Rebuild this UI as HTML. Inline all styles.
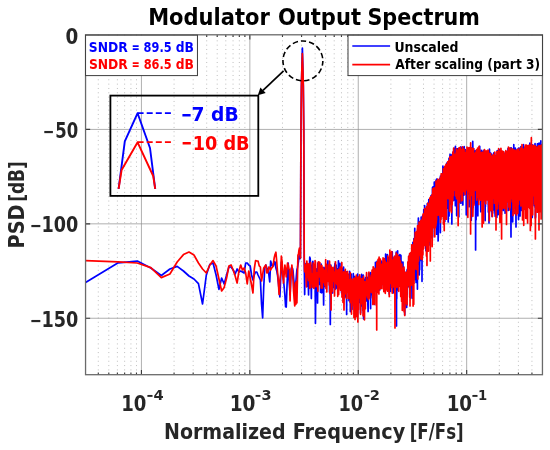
<!DOCTYPE html>
<html><head><meta charset="utf-8"><title>Modulator Output Spectrum</title>
<style>
html,body{margin:0;padding:0;background:#fff;}
svg{display:block;font-family:"DejaVu Sans Condensed", "Liberation Sans", sans-serif;font-weight:bold;}
</style></head><body>
<svg width="550" height="450" viewBox="0 0 550 450">
<defs><clipPath id="ax"><rect x="85.55" y="34.8" width="456.9" height="339.9"/></clipPath></defs>
<rect width="550" height="450" fill="#fff"/>
<rect x="85.55" y="34.8" width="456.90000000000003" height="339.9" fill="#fff"/>
<path d="M98.29 34.8V374.7M108.8 34.8V374.7M117.38 34.8V374.7M124.64 34.8V374.7M130.93 34.8V374.7M136.47 34.8V374.7M174.07 34.8V374.7M193.16 34.8V374.7M206.7 34.8V374.7M217.21 34.8V374.7M225.79 34.8V374.7M233.05 34.8V374.7M239.34 34.8V374.7M244.88 34.8V374.7M282.48 34.8V374.7M301.57 34.8V374.7M315.12 34.8V374.7M325.62 34.8V374.7M334.21 34.8V374.7M341.47 34.8V374.7M347.75 34.8V374.7M353.3 34.8V374.7M390.89 34.8V374.7M409.99 34.8V374.7M423.53 34.8V374.7M434.04 34.8V374.7M442.62 34.8V374.7M449.88 34.8V374.7M456.17 34.8V374.7M461.71 34.8V374.7M499.31 34.8V374.7M518.4 34.8V374.7M531.94 34.8V374.7" stroke="#bebebe" stroke-width="1" stroke-dasharray="1 3.33" stroke-dashoffset="-1.2" fill="none"/>
<path d="M141.43 34.8V374.7M249.85 34.8V374.7M358.26 34.8V374.7M466.67 34.8V374.7M85.55 129.42H542.45M85.55 223.83H542.45M85.55 318.25H542.45" stroke="#8e8e8e" stroke-width="0.7" fill="none"/>
<g clip-path="url(#ax)" fill="none" stroke-linejoin="round" stroke-linecap="butt" stroke-width="1.7"><path d="M85.55 282.5L118.19 262.8L137.28 261.1L150.82 268.0L161.33 275.5L169.91 269.0L177.17 266.4L183.46 271.0L189.00 276.0L193.96 279.0L198.45 283.6L202.55 304.0L206.32 275.0L209.81 264.6L213.05 263.0L216.09 275.0L218.95 289.4L221.64 278.0L224.18 284.0L226.60 275.0L228.90 267.0L231.09 267.0L233.18 270.0L235.18 274.0L237.11 269.0L238.95 272.0L240.73 271.0L242.44 272.0L244.09 273.0L245.69 263.0L247.23 263.0L248.73 265.0L250.18 266.0L251.58 275.0L252.95 280.0L254.27 275.0L255.56 272.0L256.82 272.0L258.04 275.0L259.23 277.5L260.40 280.0L261.53 303.8L262.64 318.0L263.72 287.0L264.78 268.0L265.82 265.0L266.83 267.8L267.82 270.0L268.79 274.1L269.74 282.0L270.67 261.0L271.59 264.4L272.48 266.0L273.36 266.0L274.23 261.7L275.08 262.0L275.91 268.1L276.73 270.7L277.53 275.0L278.33 282.1L279.10 290.5L279.87 297.0L280.62 279.2L281.36 262.0L282.09 265.8L282.81 275.3L283.52 280.0L284.22 287.5L284.91 295.5L285.58 306.7L286.25 307.0L286.91 288.5L287.56 272.5L288.20 263.0L288.83 278.2L289.46 285.4L290.07 295.0L290.68 282.2L291.28 268.0L291.87 270.3L292.46 268.2L293.03 271.0L293.60 278.0L294.17 283.7L294.73 290.0L295.28 286.2L295.82 282.9L296.36 276.2L296.89 270.0L297.42 267.9L297.94 264.6L298.45 261.7L298.96 256.0L299.46 255.7L299.96 258.7L300.45 258.0L300.94 130.7L301.43 85.7L301.90 67.7L302.38 48.0L302.85 67.7L303.31 85.7L303.77 130.7L304.22 258.0L304.67 294.6L305.12 263.5L305.56 272.4L306.00 276.6L306.43 272.6L306.86 276.7L307.29 283.6L307.71 286.4L308.13 275.1L308.55 295.0L308.96 266.7L309.37 270.6L309.77 257.2L310.17 258.5L310.57 264.3L310.96 280.6L311.35 298.6L311.74 269.1L312.12 266.9L312.51 264.1L312.88 261.4L313.26 279.4L313.63 266.7L314.00 288.1L314.37 273.6L314.73 281.8L315.09 275.8L315.45 323.3L315.80 290.8L316.16 268.8L316.51 276.0L316.85 282.9L317.20 269.3L317.54 302.9L317.88 263.0L318.22 270.0L318.55 270.8L318.89 269.2L319.22 266.8L319.55 284.4L319.87 278.3L320.20 268.1L320.52 292.3L320.84 284.1L321.15 264.1L321.47 271.5L321.78 292.8L322.09 268.4L322.40 287.4L322.71 285.1L323.01 270.7L323.31 279.2L323.62 305.0L323.91 267.3L324.21 282.9L324.51 286.6L324.80 268.7L325.09 276.2L325.38 277.0L325.67 283.6L325.96 273.3L326.24 286.2L326.52 277.8L326.80 279.4L327.08 275.0L327.36 281.1L327.64 269.4L327.91 260.9L328.18 279.8L328.46 270.5L328.73 275.0L328.99 269.1L329.26 271.0L329.53 292.0L329.79 272.7L330.05 274.8L330.31 324.4L330.57 268.9L330.83 265.1L331.09 270.3L331.34 269.8L331.60 275.5L331.85 277.0L332.10 274.2L332.35 270.8L332.60 292.9L332.84 272.0L333.09 272.8L333.34 278.7L333.58 275.2L333.82 270.6L334.06 287.5L334.30 276.0L334.54 268.8L334.78 265.7L335.01 263.4L335.25 289.3L335.48 275.4L335.71 278.4L335.95 269.0L336.18 265.2L336.40 276.9L336.63 287.6L336.86 278.3L337.09 288.7L337.31 268.8L337.53 284.8L337.76 274.8L337.98 272.2L338.20 285.1L338.42 260.8L338.64 273.2L338.85 267.5L339.07 280.6L339.29 282.3L339.50 268.4L339.71 270.0L339.93 263.4L340.14 280.3L340.35 282.2L340.56 271.6L340.77 283.4L340.98 284.8L341.18 281.5L341.39 273.8L341.59 292.7L341.80 278.8L342.00 281.1L342.20 279.2L342.40 294.2L342.61 288.7L342.81 268.2L343.00 269.6L343.20 296.7L343.40 277.6L343.60 267.2L343.79 275.3L343.99 283.7L344.18 282.3L344.38 288.4L344.57 271.4L344.76 295.3L344.95 281.2L345.14 279.7L345.33 296.9L345.52 279.8L345.71 284.6L345.89 277.0L346.08 285.0L346.27 280.6L346.45 271.9L346.64 314.4L346.82 275.1L347.00 273.7L347.18 276.8L347.37 280.5L347.55 284.3L347.73 276.8L347.91 274.4L348.08 284.8L348.26 275.1L348.44 287.0L348.62 286.6L348.79 291.2L348.97 300.6L349.14 282.5L349.32 279.5L349.49 291.5L349.66 271.3L349.84 291.8L350.01 301.5L350.18 277.1L350.35 311.6L350.52 289.2L350.69 290.9L350.85 288.7L351.02 296.3L351.19 274.0L351.36 283.0L351.52 286.6L351.69 290.5L351.85 283.3L352.02 309.3L352.18 287.9L352.34 284.8L352.51 290.8L352.67 291.2L352.83 282.1L352.99 289.6L353.15 282.8L353.31 273.7L353.47 286.4L353.63 289.8L353.79 282.3L353.95 276.0L354.10 280.8L354.26 291.5L354.42 281.5L354.57 284.0L354.73 294.6L354.88 277.0L355.04 282.3L355.19 289.2L355.34 279.6L355.50 290.9L355.65 294.5L355.80 289.9L355.95 288.8L356.10 284.8L356.25 297.5L356.40 281.8L356.55 279.7L356.70 280.0L356.85 289.2L356.99 284.8L357.14 287.2L357.29 290.2L357.44 316.5L357.58 274.2L357.73 283.9L357.87 301.0L358.02 299.3L358.16 290.8L358.30 287.2L358.45 277.9L358.59 290.7L358.73 291.3L358.88 291.2L359.02 286.0L359.16 283.1L359.30 281.5L359.44 300.9L359.58 276.4L359.72 302.5L359.86 299.6L360.00 283.8L360.13 288.3L360.27 302.3L360.41 297.3L360.55 313.0L360.68 305.9L360.82 278.8L360.96 283.3L361.09 305.5L361.23 293.5L361.36 284.1L361.50 288.5L361.63 274.3L361.76 280.4L361.90 295.0L362.03 305.8L362.16 289.0L362.29 282.9L362.43 276.6L362.56 283.3L362.69 283.7L362.82 303.2L362.95 286.5L363.08 293.2L363.21 291.6L363.34 275.2L363.47 290.2L363.59 318.8L363.72 279.0L363.85 289.3L363.98 293.9L364.10 285.3L364.23 300.6L364.36 281.1L364.48 302.5L364.61 302.1L364.74 282.5L364.86 283.2L364.98 286.1L365.11 288.4L365.23 279.1L365.36 280.5L365.48 289.4L365.60 277.7L365.73 285.4L365.85 293.5L365.97 286.3L366.09 283.3L366.21 290.2L366.34 301.0L366.46 282.0L366.58 295.3L366.70 287.2L366.82 289.5L366.94 278.3L367.06 290.8L367.18 297.0L367.29 294.6L367.41 285.7L367.53 277.6L367.65 282.9L367.77 291.1L367.88 305.1L368.12 311.6L368.23 286.6L368.35 277.0L368.47 284.7L368.58 288.5L368.70 273.4L368.81 275.1L368.93 278.8L369.04 278.7L369.15 281.4L369.27 281.2L369.38 297.3L369.61 277.9L369.72 290.5L369.83 294.9L369.95 285.4L370.06 273.0L370.17 287.7L370.28 289.5L370.39 279.2L370.61 308.6L370.72 272.7L370.83 279.3L370.94 282.2L371.05 292.1L371.16 277.8L371.27 276.8L371.49 289.8L371.60 289.5L371.71 294.7L371.81 278.6L371.92 286.8L372.03 287.2L372.14 275.0L372.35 287.8L372.46 280.0L372.56 296.9L372.67 298.2L372.88 287.5L372.98 280.3L373.09 293.6L373.19 281.1L373.30 269.8L373.40 278.9L373.51 277.8L373.61 296.0L373.82 269.9L373.92 268.6L374.02 272.9L374.23 282.6L374.33 282.4L374.43 304.5L374.53 282.6L374.74 291.4L374.84 286.1L374.94 282.1L375.04 282.3L375.14 276.2L375.34 289.4L375.44 262.4L375.54 286.5L375.64 271.0L375.84 290.9L375.94 279.3L376.04 272.2L376.23 275.4L376.33 283.4L376.43 265.5L376.62 275.9L376.72 285.8L376.82 268.9L376.91 271.1L377.01 261.4L377.11 275.1L377.30 280.3L377.49 273.1L377.59 276.4L377.68 276.1L377.78 282.8L377.87 277.1L378.15 266.6L378.25 277.2L378.34 273.5L378.44 268.3L378.53 274.0L378.72 270.1L378.81 267.3L378.99 285.9L379.09 278.9L379.18 286.7L379.27 277.8L379.45 267.6L379.55 267.8L379.73 290.0L379.82 271.0L379.91 272.5L380.00 267.8L380.09 276.1L380.27 267.7L380.45 280.0L380.54 274.1L380.63 286.6L380.90 280.9L380.99 263.9L381.08 280.6L381.16 272.0L381.34 280.9L381.43 261.0L381.52 270.4L381.69 278.0L381.78 284.9L381.87 262.3L382.04 274.7L382.13 268.6L382.38 278.7L382.47 267.4L382.56 271.5L382.73 283.0L382.81 273.3L382.90 283.2L383.15 264.5L383.24 270.0L383.32 261.8L383.41 270.7L383.57 261.4L383.74 287.4L383.83 263.1L383.91 266.4L384.08 262.0L384.16 273.5L384.41 278.0L384.49 282.8L384.57 259.2L384.74 264.2L384.82 260.6L384.90 290.8L385.06 268.6L385.22 280.1L385.39 260.0L385.47 279.3L385.55 281.7L385.63 254.1L385.79 283.5L385.95 266.2L386.11 263.3L386.19 278.5L386.27 264.1L386.35 280.3L386.50 282.2L386.74 263.8L386.82 265.4L386.97 259.5L387.05 266.1L387.13 275.7L387.29 272.3L387.36 254.6L387.67 261.6L387.75 280.1L387.90 278.2L387.98 260.9L388.13 257.5L388.21 281.0L388.36 281.8L388.43 265.3L388.51 275.8L388.59 263.3L388.89 269.7L388.96 263.3L389.04 267.7L389.19 260.3L389.26 293.9L389.41 261.2L389.56 275.4L389.63 279.7L389.78 253.9L389.92 285.0L390.14 259.5L390.22 263.8L390.36 274.1L390.44 261.8L390.51 291.2L390.58 265.1L390.87 283.5L390.94 271.7L391.01 273.0L391.08 257.1L391.37 269.4L391.44 267.4L391.51 268.0L391.58 255.5L391.79 263.7L391.86 274.2L392.07 256.8L392.15 282.8L392.28 251.9L392.35 287.1L392.56 262.7L392.70 278.3L392.77 259.3L392.98 277.0L393.05 267.3L393.11 292.9L393.39 271.1L393.46 261.1L393.59 265.8L393.66 258.3L393.79 292.3L393.93 265.1L394.06 261.6L394.13 269.8L394.27 261.1L394.40 280.4L394.53 256.4L394.66 270.7L394.80 283.3L394.86 257.5L395.06 269.9L395.19 262.8L395.26 274.1L395.32 265.8L395.58 266.3L395.71 277.8L395.78 269.1L395.84 282.2L396.10 285.1L396.23 252.1L396.36 262.9L396.49 326.0L396.55 261.4L396.74 298.5L396.80 262.4L396.87 276.1L397.18 284.8L397.25 255.6L397.37 253.1L397.50 270.7L397.62 250.8L397.75 279.2L397.81 284.7L397.93 269.3L398.05 289.8L398.18 261.2L398.30 262.6L398.36 285.5L398.61 255.8L398.67 270.1L398.79 274.9L398.91 265.5L399.09 263.9L399.21 280.0L399.33 267.2L399.45 282.6L399.57 286.3L399.69 263.7L399.81 273.4L399.87 254.5L400.11 263.3L400.23 272.5L400.40 284.4L400.46 267.6L400.58 278.0L400.69 260.9L400.87 289.8L400.93 255.4L401.04 269.5L401.16 279.8L401.27 288.5L401.39 261.4L401.50 295.5L401.73 267.2L401.85 290.6L401.96 277.3L402.19 271.0L402.24 284.1L402.41 270.3L402.47 285.7L402.53 284.6L402.75 269.5L402.92 304.9L402.97 262.1L403.14 286.2L403.25 276.7L403.30 266.8L403.41 299.2L403.63 300.7L403.74 269.1L403.80 273.4L403.85 289.2L404.02 270.2L404.07 307.1L404.34 276.7L404.40 310.6L404.56 273.5L404.72 314.7L404.93 301.7L404.99 284.6L405.09 293.3L405.14 280.7L405.30 292.8L405.36 272.3L405.57 279.4L405.73 299.7L405.93 285.6L405.99 273.7L406.09 278.9L406.19 297.0L406.30 282.9L406.40 292.6L406.61 281.1L406.66 307.5L406.76 302.8L406.97 283.2L407.07 269.9L407.22 294.2L407.27 269.4L407.37 287.4L407.53 278.1L407.73 269.8L407.88 262.8L407.93 277.3L408.08 277.4L408.23 286.7L408.28 282.6L408.38 269.8L408.67 267.1L408.72 286.0L408.87 261.9L408.92 283.9L409.06 286.7L409.21 256.2L409.36 284.6L409.45 265.6L409.50 269.6L409.74 253.8L409.79 297.0L409.89 265.5L410.03 287.0L410.08 257.6L410.32 261.0L410.36 279.6L410.51 256.3L410.60 298.4L410.88 253.2L410.93 272.4L411.12 273.3L411.21 259.8L411.40 276.9L411.45 254.2L411.54 270.1L411.72 253.2L411.91 252.7L412.00 267.4L412.09 272.3L412.18 255.3L412.27 248.3L412.46 298.1L412.64 260.2L412.73 282.6L412.77 277.2L412.91 242.3L413.13 265.6L413.22 251.0L413.27 267.2L413.36 249.3L413.53 263.4L413.67 246.9L413.84 258.6L413.93 238.5L414.02 242.8L414.06 262.3L414.33 240.2L414.41 266.2L414.59 237.9L414.67 258.9L414.76 228.4L414.89 279.6L415.19 242.0L415.24 254.9L415.28 260.8L415.45 242.0L415.70 235.1L415.75 258.8L415.92 263.0L415.96 244.8L416.08 282.5L416.13 239.2L416.25 234.0L416.38 267.7L416.59 236.7L416.63 270.5L416.84 265.9L416.88 237.9L417.08 247.9L417.21 232.4L417.41 289.1L417.45 234.3L417.58 264.6L417.66 228.8L417.82 256.2L417.86 226.4L418.06 252.2L418.14 235.9L418.38 218.0L418.42 248.2L418.62 251.4L418.70 225.5L418.82 231.5L418.98 257.9L419.14 247.6L419.18 233.1L419.26 274.8L419.34 231.5L419.61 233.4L419.65 269.8L419.77 251.4L419.88 221.6L420.04 261.1L420.23 225.9L420.31 251.3L420.50 230.5L420.54 252.2L420.65 224.2L420.84 247.1L420.99 223.0L421.11 241.5L421.18 217.2L421.26 219.8L421.45 244.0L421.60 260.0L421.67 219.0L421.93 249.5L421.97 231.3L422.01 281.3L422.08 217.9L422.27 258.5L422.49 222.7L422.71 215.6L422.74 239.1L422.82 231.7L422.89 219.4L423.03 218.9L423.22 245.4L423.36 217.6L423.40 234.6L423.65 218.8L423.72 240.4L423.76 209.7L423.97 239.0L424.00 229.4L424.11 213.3L424.25 215.1L424.46 239.5L424.54 229.4L424.61 205.5L424.85 210.0L424.96 242.1L425.06 232.9L425.20 216.1L425.41 232.4L425.48 215.3L425.51 210.6L425.58 239.1L425.96 250.8L425.99 217.8L426.16 228.7L426.23 208.8L426.43 218.7L426.46 245.0L426.53 239.0L426.57 208.0L426.83 213.2L426.87 240.8L427.17 231.7L427.20 212.6L427.30 203.7L427.40 240.5L427.60 228.4L427.66 207.6L427.83 230.4L427.99 212.6L428.15 214.7L428.22 247.0L428.41 203.6L428.48 231.6L428.54 206.0L428.58 242.1L428.77 227.6L428.80 199.6L429.19 232.0L429.22 202.2L429.31 219.6L429.47 201.8L429.53 223.6L429.66 199.9L429.76 198.8L429.88 234.3L430.07 245.1L430.19 214.4L430.26 225.1L430.32 202.2L430.54 198.9L430.63 216.1L430.81 238.1L431.00 196.2L431.09 195.7L431.21 236.3L431.30 196.6L431.39 237.6L431.52 200.0L431.61 228.8L431.76 198.9L431.91 222.5L432.03 227.8L432.18 196.3L432.39 208.0L432.48 187.7L432.62 236.9L432.71 193.1L432.77 193.4L432.95 214.1L433.01 186.8L433.07 223.6L433.27 222.6L433.45 193.6L433.50 193.5L433.56 218.7L433.85 217.7L433.97 189.9L434.11 218.6L434.17 186.7L434.25 212.2L434.28 182.2L434.54 191.7L434.65 215.5L434.88 188.0L434.96 210.3L435.05 187.0L435.13 200.5L435.44 210.0L435.50 181.6L435.52 217.4L435.72 184.3L435.77 190.8L435.91 212.7L436.08 180.0L436.24 218.9L436.27 188.0L436.32 215.3L436.63 234.2L436.68 179.1L436.90 207.1L436.95 181.9L437.14 185.5L437.22 209.0L437.27 179.3L437.41 201.1L437.57 184.9L437.59 207.5L437.81 201.4L437.89 181.9L438.07 180.8L438.12 241.0L438.41 230.8L438.47 179.8L438.57 209.5L438.67 183.6L438.78 186.6L438.99 198.0L439.14 182.6L439.24 210.8L439.37 198.7L439.47 185.1L439.50 209.3L439.53 183.1L439.81 204.8L439.86 178.7L440.14 178.1L440.24 209.8L440.39 232.6L440.46 176.0L440.56 195.2L440.61 179.2L440.96 210.6L440.99 177.8L441.04 178.3L441.13 198.2L441.26 176.3L441.38 188.4L441.50 210.1L441.55 177.2L441.82 199.3L441.87 178.7L442.04 177.3L442.16 209.1L442.28 213.7L442.50 178.8L442.52 175.0L442.59 208.4L442.83 209.3L442.91 166.0L443.12 171.8L443.24 197.3L443.38 167.7L443.47 206.7L443.57 170.7L443.68 197.8L443.94 192.7L443.99 172.1L444.10 209.8L444.13 172.2L444.40 193.7L444.50 174.3L444.59 171.8L444.75 218.4L444.80 221.4L444.89 171.7L445.07 190.2L445.18 168.5L445.43 171.6L445.45 193.6L445.63 166.4L445.75 206.9L445.92 168.7L445.95 209.6L446.15 214.7L446.24 169.2L446.26 197.2L446.30 171.0L446.55 195.5L446.66 163.9L446.77 197.0L446.83 163.2L447.09 202.8L447.16 165.4L447.40 193.1L447.42 170.8L447.53 165.2L447.57 208.2L447.85 172.0L447.98 203.0L448.17 169.8L448.21 221.9L448.28 164.1L448.34 188.5L448.57 189.4L448.68 162.5L448.76 167.0L448.80 188.2L449.03 158.3L449.06 216.0L449.31 164.2L449.49 207.1L449.55 162.5L449.70 177.9L449.90 188.8L449.99 155.9L450.03 154.4L450.17 204.1L450.27 198.2L450.48 161.8L450.56 162.2L450.72 190.2L450.86 187.3L450.88 158.4L451.06 196.5L451.08 158.4L451.28 155.0L451.46 194.1L451.72 158.0L451.74 195.2L451.75 159.1L451.85 224.0L452.07 157.3L452.11 183.8L452.46 154.0L452.48 188.3L452.56 183.6L452.58 154.6L452.79 182.7L452.83 160.6L453.00 194.8L453.08 152.2L453.46 156.0L453.48 200.5L453.59 152.3L453.67 192.2L453.91 186.3L453.95 157.3L454.03 157.3L454.06 199.8L454.40 148.3L454.49 177.3L454.66 154.4L454.74 199.9L454.75 174.9L454.85 154.3L455.14 177.4L455.18 158.3L455.36 205.7L455.45 146.3L455.67 180.4L455.74 151.0L455.76 191.6L455.78 160.6L456.19 155.4L456.21 174.5L456.34 159.3L456.48 193.2L456.68 151.2L456.69 215.7L456.87 185.4L456.99 149.3L457.08 148.9L457.17 188.4L457.40 148.9L457.49 179.4L457.70 187.6L457.73 159.4L457.76 158.5L457.94 177.0L458.06 153.9L458.20 188.4L458.44 154.3L458.45 196.5L458.56 198.9L458.61 149.0L458.85 216.7L458.88 156.6L459.17 191.4L459.23 153.1L459.40 152.1L459.47 179.9L459.54 188.0L459.55 147.9L459.75 152.4L459.80 185.2L460.05 151.2L460.07 185.7L460.35 154.3L460.37 185.9L460.63 154.1L460.74 181.8L460.87 203.2L460.89 146.8L461.00 150.1L461.08 177.5L461.31 149.0L461.49 191.5L461.60 154.7L461.73 198.7L461.81 153.1L461.93 175.1L462.14 183.1L462.17 150.7L462.36 152.6L462.38 186.5L462.60 147.5L462.70 204.1L462.86 205.0L462.95 156.8L463.14 156.2L463.22 190.3L463.40 188.8L463.42 152.4L463.57 177.9L463.69 153.2L463.83 148.4L463.98 195.1L464.15 146.5L464.24 174.5L464.30 155.6L464.42 179.5L464.59 155.4L464.63 192.8L464.87 160.3L464.95 192.3L465.10 155.8L465.22 192.3L465.28 149.7L465.47 188.0L465.63 154.7L465.69 185.1L465.95 155.8L465.99 183.4L466.10 177.3L466.13 155.1L466.26 214.8L466.30 152.5L466.53 157.5L466.73 200.0L466.80 194.5L466.82 151.4L467.10 193.5L467.18 152.6L467.30 190.1L467.42 157.0L467.60 192.2L467.71 151.2L467.81 181.3L467.98 150.8L468.10 152.6L468.22 194.0L468.27 154.8L468.42 184.0L468.55 178.6L468.73 152.5L468.93 167.4L468.97 149.0L469.03 147.8L469.12 206.7L469.33 174.1L469.36 156.5L469.59 148.6L469.69 185.5L469.77 185.8L469.79 154.0L470.03 154.6L470.06 184.4L470.30 199.7L470.35 153.4L470.51 187.7L470.73 154.9L470.96 194.8L471.00 158.3L471.14 152.0L471.21 196.7L471.26 220.2L471.49 148.2L471.60 152.4L471.70 189.4L471.78 152.5L471.85 187.5L472.03 154.9L472.24 195.4L472.30 193.1L472.39 151.8L472.61 183.6L472.73 141.4L472.92 151.4L472.95 182.7L473.05 207.6L473.15 158.1L473.36 153.5L473.41 187.2L473.67 148.7L473.73 184.0L473.76 181.3L473.86 152.8L474.07 150.8L474.20 185.2L474.25 192.0L474.27 154.0L474.55 155.6L474.66 203.0L474.85 187.8L474.89 157.0L475.03 189.9L475.23 152.1L475.34 150.8L475.45 199.8L475.51 153.1L475.60 250.0L475.85 153.8L475.93 200.6L476.11 219.8L476.25 152.5L476.34 151.6L476.43 193.3L476.64 203.4L476.66 152.0L476.83 200.2L476.84 154.3L477.08 152.3L477.20 187.1L477.44 153.2L477.45 195.7L477.56 157.2L477.67 192.7L477.85 215.8L477.99 153.6L478.02 187.7L478.10 155.7L478.29 190.4L478.49 152.8L478.57 156.7L478.68 196.6L478.76 150.7L478.95 189.6L479.07 156.7L479.10 185.8L479.35 183.7L479.47 152.6L479.54 188.3L479.71 146.3L479.77 152.6L479.99 199.0L480.05 183.5L480.09 155.1L480.41 157.4L480.43 195.6L480.57 151.3L480.61 196.4L480.79 211.7L480.92 157.6L481.09 152.1L481.14 197.0L481.27 190.3L481.48 154.4L481.62 200.8L481.71 150.3L481.86 152.9L481.91 190.5L482.13 198.2L482.22 154.1L482.29 179.9L482.32 152.6L482.64 190.8L482.65 152.0L482.89 187.8L482.90 154.8L483.03 156.4L483.22 198.5L483.35 158.2L483.44 190.5L483.57 153.7L483.67 190.0L483.83 188.7L483.95 150.3L484.11 196.8L484.19 160.8L484.36 156.7L484.39 184.4L484.53 155.2L484.69 188.9L484.81 151.3L484.95 187.7L485.15 220.6L485.21 152.4L485.27 155.1L485.40 206.5L485.50 191.1L485.55 155.6L485.91 153.5L485.98 194.7L486.17 161.3L486.21 198.4L486.39 193.3L486.46 155.6L486.57 153.7L486.58 181.1L486.78 191.2L486.86 153.6L487.08 156.0L487.18 189.6L487.38 191.5L487.42 158.7L487.54 190.7L487.70 158.4L487.81 188.1L487.90 154.3L488.02 187.5L488.14 151.6L488.38 211.9L488.48 153.8L488.53 156.9L488.66 193.4L488.96 159.3L489.00 223.0L489.08 155.2L489.22 205.0L489.34 189.4L489.46 149.2L489.65 154.1L489.75 179.8L489.95 157.1L489.99 194.3L490.12 156.4L490.19 189.2L490.33 195.6L490.47 157.5L490.61 190.6L490.63 158.6L490.76 153.2L490.86 208.3L491.03 156.6L491.12 190.8L491.37 211.1L491.38 157.9L491.52 154.1L491.68 189.9L491.79 157.6L491.80 194.9L492.04 216.4L492.14 155.7L492.26 179.7L492.32 158.7L492.62 213.0L492.73 161.1L492.81 207.0L492.94 157.1L493.05 202.9L493.21 158.8L493.32 197.1L493.47 156.2L493.52 191.5L493.66 153.9L493.86 152.8L493.87 209.8L494.02 156.0L494.19 193.0L494.30 153.9L494.33 202.9L494.60 193.2L494.62 153.2L494.76 157.3L494.88 211.1L495.21 216.4L495.22 159.2L495.27 157.0L495.36 194.3L495.59 195.9L495.68 156.8L495.78 157.1L495.97 209.7L496.01 155.5L496.23 197.2L496.28 159.4L496.47 193.9L496.53 157.9L496.68 195.0L496.86 217.3L496.95 155.9L497.08 193.6L497.16 160.1L497.26 150.7L497.32 188.5L497.55 188.5L497.69 157.2L497.90 157.3L497.94 208.8L498.21 152.1L498.24 214.7L498.33 210.8L498.42 160.7L498.59 185.7L498.67 157.3L498.86 149.9L498.91 194.9L499.00 204.7L499.15 156.8L499.39 155.8L499.43 213.5L499.63 149.5L499.68 198.6L499.80 192.5L499.85 154.2L500.01 187.9L500.11 151.0L500.29 157.2L500.31 204.0L500.73 156.0L500.74 202.5L500.77 205.2L500.86 155.0L501.05 152.4L501.19 186.5L501.37 152.3L501.43 214.4L501.61 188.9L501.71 154.8L501.76 153.1L501.90 204.9L502.22 190.7L502.24 153.3L502.30 190.3L502.42 155.7L502.65 187.1L502.67 154.6L502.78 202.2L502.81 153.6L503.08 155.8L503.16 193.1L503.27 210.4L503.32 151.7L503.59 194.6L503.67 161.1L503.78 199.3L503.94 156.4L504.04 155.2L504.18 197.0L504.30 193.4L504.31 156.8L504.66 194.2L504.70 154.3L504.80 190.4L504.89 156.0L505.07 153.7L505.10 213.2L505.27 207.9L505.45 153.5L505.50 190.2L505.68 151.8L505.83 199.1L505.88 152.7L506.05 156.0L506.13 189.0L506.31 184.7L506.38 154.4L506.63 153.9L506.67 200.2L506.92 192.1L507.00 152.6L507.01 198.2L507.20 154.2L507.38 153.0L507.45 201.7L507.59 151.7L507.62 192.9L507.80 184.7L508.00 148.7L508.16 210.4L508.20 152.4L508.28 154.8L508.41 202.4L508.73 194.2L508.74 155.5L508.76 156.0L508.93 196.8L509.11 195.9L509.24 154.5L509.35 205.2L509.46 155.3L509.59 157.1L509.66 203.7L509.90 195.9L509.92 152.4L510.16 199.9L510.17 148.1L510.28 154.2L510.29 203.0L510.50 193.1L510.56 149.1L510.75 152.0L510.83 207.6L511.00 237.0L511.16 147.8L511.29 151.5L511.44 182.4L511.62 193.1L511.68 149.0L511.87 190.9L511.91 154.8L512.04 152.9L512.21 204.2L512.36 202.7L512.47 153.0L512.55 153.1L512.69 221.8L512.80 152.3L512.83 191.7L513.17 155.5L513.24 211.4L513.35 208.7L513.43 153.3L513.67 198.0L513.74 158.5L513.79 144.7L513.93 191.5L514.14 181.1L514.15 152.9L514.37 151.1L514.49 195.8L514.50 186.9L514.73 153.2L514.85 156.0L514.98 199.3L515.06 151.8L515.21 196.6L515.29 148.1L515.44 195.9L515.54 149.0L515.63 209.0L515.75 153.6L516.00 227.0L516.01 183.4L516.04 152.6L516.29 157.1L516.29 191.5L516.71 152.8L516.74 187.6L516.75 194.6L516.92 152.3L517.22 189.1L517.24 153.0L517.25 189.0L517.43 149.4L517.51 190.0L517.75 150.9L517.78 193.3L517.95 151.3L518.08 152.5L518.09 192.4L518.27 150.6L518.31 201.1L518.54 219.6L518.60 148.1L518.85 203.1L518.86 153.5L519.07 185.5L519.19 151.2L519.28 201.1L519.41 148.4L519.57 151.2L519.71 198.4L519.84 198.7L519.96 151.0L520.05 215.9L520.06 150.8L520.34 151.1L520.50 203.2L520.66 190.9L520.73 152.9L520.79 186.3L520.96 146.5L521.20 187.4L521.24 152.8L521.41 153.0L521.49 210.3L521.52 190.8L521.71 152.5L521.84 192.3L521.85 155.4L522.10 191.8L522.11 154.5L522.29 198.1L522.30 153.4L522.57 189.6L522.64 151.4L522.91 203.1L522.98 147.7L523.13 202.8L523.15 151.0L523.44 194.0L523.46 144.6L523.52 194.7L523.63 148.7L523.75 203.1L523.84 152.5L524.06 152.0L524.16 196.5L524.41 149.6L524.46 196.0L524.53 188.0L524.69 152.2L524.78 200.0L524.81 147.8L525.05 148.9L525.24 192.0L525.44 204.0L525.49 149.9L525.71 152.1L525.73 197.9L525.85 204.1L525.93 149.3L526.01 149.5L526.05 202.0L526.37 203.8L526.45 149.2L526.52 203.1L526.64 152.5L526.89 151.0L526.95 211.0L527.00 152.0L527.05 199.4L527.28 147.8L527.44 187.2L527.54 195.3L527.71 151.6L527.78 205.0L527.85 148.9L528.02 197.7L528.07 146.5L528.42 200.3L528.45 154.0L528.55 193.3L528.68 145.6L528.83 149.0L528.89 193.8L529.05 194.7L529.20 150.4L529.30 148.4L529.34 186.9L529.62 197.3L529.71 144.6L529.89 143.1L529.92 193.5L530.13 149.8L530.17 203.3L530.44 193.4L530.50 144.7L530.63 198.0L530.73 147.0L530.93 149.9L530.97 201.4L531.07 218.7L531.12 147.6L531.46 148.6L531.48 204.2L531.56 208.7L531.56 146.9L531.93 207.6L531.99 145.9L532.08 202.0L532.25 144.8L532.26 217.3L532.29 150.3L532.55 186.9L532.75 150.4L532.79 205.8L532.87 150.9L533.06 147.9L533.07 198.7L533.35 189.7L533.35 145.7L533.61 149.4L533.63 193.5L533.77 203.3L533.96 148.8L534.01 148.7L534.12 200.4L534.36 187.1L534.36 145.5L534.68 205.8L534.73 145.2L534.77 193.7L534.98 148.9L535.05 143.7L535.15 207.8L535.34 150.6L535.38 218.0L535.59 216.9L535.67 146.3L535.90 146.7L535.94 197.3L536.13 187.8L536.16 146.5L536.30 148.2L536.40 187.6L536.60 148.3L536.65 193.6L536.80 147.0L536.84 195.9L537.04 202.0L537.11 147.3L537.40 187.1L537.42 143.8L537.58 146.5L537.71 188.4L537.79 193.3L537.83 148.2L538.20 191.6L538.23 143.5L538.33 201.9L538.36 146.2L538.51 206.5L538.69 148.7L538.83 185.3L538.99 149.0L539.06 204.1L539.24 143.1L539.29 145.4L539.34 202.8L539.61 190.3L539.66 148.6L539.86 148.6L539.89 209.4L540.10 197.6L540.20 147.2L540.32 146.7L540.42 193.3L540.64 146.5L540.68 207.9L540.86 140.9L540.86 199.2L541.01 147.4L541.06 187.5L541.33 146.4L541.40 191.7L541.58 187.7L541.61 146.6L541.76 197.1L541.97 145.2L542.11 149.0L542.12 194.5L542.43 191.5L542.45 144.0" stroke="#0000ff"/><path d="M85.55 260.7L118.19 261.8L137.28 263.0L150.82 267.6L161.33 277.6L169.91 274.0L177.17 262.0L183.46 254.6L189.00 252.0L193.96 255.0L198.45 263.0L202.55 269.0L206.32 273.0L209.81 265.0L213.05 260.6L216.09 266.0L218.95 279.0L221.64 291.0L224.18 287.4L226.60 278.0L228.90 266.0L231.09 265.0L233.18 270.0L235.18 276.0L237.11 283.0L238.95 271.0L240.73 265.0L242.44 270.0L244.09 268.0L245.69 273.0L247.23 284.0L248.73 271.0L250.18 278.0L251.58 285.0L252.95 293.0L254.27 269.0L255.56 260.6L256.82 261.0L258.04 261.0L259.23 265.9L260.40 267.0L261.53 281.0L262.64 274.3L263.72 268.0L264.78 266.5L265.82 265.0L266.83 273.0L267.82 272.5L268.79 267.0L269.74 267.5L270.67 270.0L271.59 268.0L272.48 267.4L273.36 263.3L274.23 257.7L275.08 254.3L275.91 252.2L276.73 261.5L277.53 272.0L278.33 282.0L279.10 294.4L279.87 280.1L280.62 275.0L281.36 256.0L282.09 261.6L282.81 274.0L283.52 283.0L284.22 273.1L284.91 265.0L285.58 270.0L286.25 277.0L286.91 268.8L287.56 263.0L288.20 264.9L288.83 269.0L289.46 269.6L290.07 301.0L290.68 274.8L291.28 275.0L291.87 265.0L292.46 271.1L293.03 280.6L293.60 291.5L294.17 299.2L294.73 306.0L295.28 283.2L295.82 304.4L296.36 281.5L296.89 303.0L297.42 279.7L297.94 255.0L298.45 254.7L298.96 250.1L299.46 248.0L299.96 253.4L300.45 258.0L300.94 130.7L301.43 85.7L301.90 67.7L302.38 53.7L302.85 67.7L303.31 85.7L303.77 130.7L304.22 258.0L304.67 271.8L305.12 264.7L305.56 269.0L306.00 276.9L306.43 287.0L306.86 261.0L307.29 273.7L307.71 277.5L308.13 263.8L308.55 280.6L308.96 264.0L309.37 271.3L309.77 288.3L310.17 287.4L310.57 262.3L310.96 270.2L311.35 283.3L311.74 273.7L312.12 287.5L312.51 282.6L312.88 286.1L313.26 263.2L313.63 271.5L314.00 288.4L314.37 286.5L314.73 282.7L315.09 260.6L315.45 262.0L315.80 269.7L316.16 286.7L316.51 279.4L316.85 272.8L317.20 280.6L317.54 280.7L317.88 291.2L318.22 262.0L318.55 267.3L318.89 261.9L319.22 276.8L319.55 276.9L319.87 262.6L320.20 275.6L320.52 281.4L320.84 270.0L321.15 287.9L321.47 276.4L321.78 265.3L322.09 273.7L322.40 288.1L322.71 267.7L323.01 278.6L323.31 268.8L323.62 282.5L323.91 273.9L324.21 270.4L324.51 272.2L324.80 283.8L325.09 285.8L325.38 277.3L325.67 259.7L325.96 288.5L326.24 276.0L326.52 264.1L326.80 292.0L327.08 274.3L327.36 281.7L327.64 278.7L327.91 274.2L328.18 281.5L328.46 265.1L328.73 275.9L328.99 269.8L329.26 284.9L329.53 261.2L329.79 273.6L330.05 293.5L330.31 265.2L330.57 267.3L330.83 268.4L331.09 310.0L331.34 267.0L331.60 272.8L331.85 271.5L332.10 291.8L332.35 277.9L332.60 277.6L332.84 272.6L333.09 267.4L333.34 273.9L333.58 274.2L333.82 279.4L334.06 282.0L334.30 277.9L334.54 295.9L334.78 278.9L335.01 271.5L335.25 275.3L335.48 261.8L335.71 283.1L335.95 268.8L336.18 275.4L336.40 273.9L336.63 278.9L336.86 284.7L337.09 273.7L337.31 270.5L337.53 276.7L337.76 296.3L337.98 289.9L338.20 273.1L338.42 269.3L338.64 294.5L338.85 271.0L339.07 270.0L339.29 285.1L339.50 270.5L339.71 275.8L339.93 272.0L340.14 267.2L340.35 287.8L340.56 290.3L340.77 267.9L340.98 284.9L341.18 277.9L341.39 266.8L341.59 274.7L341.80 262.5L342.00 297.1L342.20 294.4L342.40 283.0L342.61 276.0L342.81 295.7L343.00 302.4L343.20 285.2L343.40 283.7L343.60 271.9L343.79 285.6L343.99 310.0L344.18 293.4L344.38 287.0L344.57 278.7L344.76 277.9L344.95 274.9L345.14 281.1L345.33 269.4L345.52 288.8L345.71 293.9L345.89 282.5L346.08 287.5L346.27 275.9L346.45 298.4L346.64 281.9L346.82 272.3L347.00 284.2L347.18 286.6L347.37 292.2L347.55 271.5L347.73 282.6L347.91 273.7L348.08 274.9L348.26 275.7L348.44 298.5L348.62 295.2L348.79 279.6L348.97 290.4L349.14 292.2L349.32 281.0L349.49 285.6L349.66 290.2L349.84 290.0L350.01 291.2L350.18 302.3L350.35 272.9L350.52 281.7L350.69 295.1L350.85 293.4L351.02 283.6L351.19 286.9L351.36 304.2L351.52 314.1L351.69 288.5L351.85 279.3L352.02 285.3L352.18 284.7L352.34 284.0L352.51 286.2L352.67 288.0L352.83 285.3L352.99 296.1L353.15 294.0L353.31 298.5L353.47 306.2L353.63 278.5L353.79 290.0L353.95 317.5L354.10 292.0L354.26 282.4L354.42 294.6L354.57 294.7L354.73 282.2L354.88 301.8L355.04 319.4L355.19 277.3L355.34 297.3L355.50 286.9L355.65 286.4L355.80 297.4L355.95 308.6L356.10 305.2L356.25 275.2L356.40 290.6L356.55 316.7L356.70 289.5L356.85 284.4L356.99 288.0L357.14 283.5L357.29 277.3L357.44 283.6L357.58 295.9L357.73 292.3L357.87 321.9L358.02 287.5L358.16 286.1L358.30 284.8L358.45 309.6L358.59 282.6L358.73 283.9L358.88 276.5L359.02 292.2L359.16 286.4L359.30 278.8L359.44 294.2L359.58 298.0L359.72 274.8L359.86 282.8L360.00 285.3L360.13 286.7L360.27 287.0L360.41 290.1L360.55 314.3L360.68 289.2L360.82 283.8L360.96 278.5L361.09 297.2L361.23 297.6L361.36 285.9L361.50 303.7L361.63 282.5L361.76 302.7L361.90 289.4L362.03 278.6L362.16 294.2L362.29 298.1L362.43 285.6L362.56 282.4L362.69 286.7L362.82 311.1L362.95 293.3L363.08 315.7L363.21 283.2L363.34 308.7L363.47 276.4L363.59 288.9L363.72 296.1L363.85 282.6L363.98 287.1L364.10 285.9L364.23 312.5L364.36 287.3L364.48 319.8L364.61 299.2L364.74 281.8L364.86 283.8L364.98 291.1L365.11 300.5L365.23 283.6L365.36 308.7L365.48 282.3L365.60 283.9L365.73 295.3L365.85 283.4L365.97 287.7L366.09 281.7L366.21 289.4L366.34 295.7L366.46 276.0L366.58 272.6L366.70 278.3L366.82 295.4L366.94 280.1L367.06 287.3L367.18 290.0L367.29 280.8L367.41 294.6L367.53 297.8L367.65 292.6L367.77 284.6L367.88 283.1L368.00 295.5L368.23 279.9L368.35 295.2L368.47 285.2L368.58 299.4L368.70 289.6L368.81 281.5L368.93 272.2L369.04 280.6L369.15 291.5L369.27 282.4L369.50 298.0L369.61 278.4L369.72 277.3L369.83 281.4L369.95 290.9L370.06 285.2L370.17 280.7L370.28 286.8L370.39 281.3L370.50 278.7L370.61 286.8L370.83 291.5L370.94 281.9L371.05 284.3L371.16 275.2L371.38 292.5L371.49 282.1L371.60 285.3L371.71 276.3L371.81 281.4L371.92 286.2L372.03 270.2L372.14 285.7L372.35 277.4L372.46 278.3L372.56 274.8L372.67 283.7L372.88 304.5L372.98 276.6L373.09 285.9L373.19 266.8L373.30 297.9L373.40 270.6L373.51 267.5L373.71 289.6L373.82 287.4L373.92 295.1L374.13 287.6L374.23 304.0L374.33 272.9L374.43 281.4L374.53 281.5L374.74 268.7L374.84 272.9L374.94 282.1L375.04 278.8L375.24 290.1L375.34 285.8L375.44 272.8L375.54 279.6L375.64 289.5L375.84 278.7L375.94 274.7L376.13 305.0L376.23 294.9L376.33 277.0L376.43 286.3L376.53 267.6L376.72 330.0L376.82 262.7L376.91 285.2L377.01 276.0L377.11 268.4L377.30 286.2L377.49 292.4L377.59 277.4L377.68 269.9L377.78 261.0L377.97 273.6L378.06 259.4L378.15 272.8L378.34 276.9L378.44 278.9L378.62 277.0L378.72 266.1L378.90 293.9L378.99 267.8L379.09 257.2L379.18 271.6L379.27 261.6L379.36 273.8L379.55 271.2L379.73 276.1L379.82 262.8L379.91 277.8L380.09 263.2L380.18 270.6L380.36 259.1L380.45 288.6L380.54 283.7L380.72 268.0L380.90 269.2L380.99 287.5L381.08 272.4L381.16 264.3L381.34 267.9L381.43 278.7L381.60 273.4L381.69 275.3L381.78 265.8L381.95 288.6L382.13 264.0L382.21 284.7L382.38 280.6L382.47 264.2L382.56 267.7L382.64 275.1L382.90 275.4L382.98 260.1L383.07 257.9L383.24 275.8L383.32 273.3L383.41 263.7L383.66 275.4L383.74 284.0L383.83 291.6L383.99 271.6L384.08 272.2L384.24 260.9L384.41 277.1L384.49 258.6L384.57 267.9L384.65 287.7L384.82 270.3L384.98 260.8L385.14 290.4L385.22 261.6L385.30 293.3L385.47 269.0L385.55 286.9L385.63 262.5L385.87 271.8L385.95 275.8L386.03 289.8L386.19 278.5L386.27 264.8L386.42 287.1L386.50 279.3L386.66 264.8L386.82 269.1L386.97 280.6L387.13 270.2L387.21 289.3L387.36 262.3L387.44 279.1L387.52 291.2L387.67 277.4L387.83 256.1L387.90 289.7L388.05 267.5L388.21 270.7L388.36 278.5L388.43 269.7L388.51 277.6L388.59 263.3L388.81 270.8L388.96 263.5L389.11 277.2L389.19 284.5L389.26 296.6L389.33 262.7L389.63 264.3L389.70 279.5L389.85 250.1L390.00 262.3L390.14 258.0L390.22 283.4L390.36 281.5L390.44 264.2L390.58 273.2L390.72 261.1L390.80 269.0L390.87 277.2L391.01 275.2L391.08 262.3L391.37 252.6L391.44 269.4L391.51 287.5L391.72 251.5L391.79 283.2L391.93 265.9L392.15 271.3L392.21 293.1L392.28 284.8L392.42 260.4L392.63 282.6L392.70 263.0L392.77 281.4L392.84 266.0L393.05 278.9L393.18 263.8L393.32 259.8L393.39 274.8L393.52 281.3L393.66 259.6L393.79 286.7L393.93 257.4L394.06 261.4L394.13 287.0L394.27 257.1L394.40 280.7L394.60 277.2L394.73 263.0L394.80 256.4L395.00 328.0L395.13 262.6L395.19 269.1L395.32 279.0L395.45 257.4L395.52 258.3L395.58 278.4L395.84 264.2L395.91 287.5L396.04 275.5L396.10 260.0L396.29 253.2L396.49 281.8L396.55 260.7L396.61 282.1L396.87 269.0L396.99 260.7L397.12 264.5L397.25 274.9L397.31 268.7L397.50 286.9L397.56 254.5L397.75 286.4L397.81 256.2L397.87 275.5L398.12 270.9L398.18 256.7L398.30 260.9L398.36 277.0L398.67 291.3L398.73 261.7L398.91 274.0L398.97 261.5L399.03 279.4L399.21 274.0L399.33 281.3L399.39 261.3L399.51 286.0L399.57 257.2L399.75 269.4L399.87 275.8L400.11 266.3L400.23 280.4L400.34 282.8L400.46 261.0L400.52 269.9L400.58 279.2L400.75 296.5L400.87 264.1L401.04 280.2L401.22 267.6L401.33 266.8L401.45 277.3L401.56 301.2L401.73 264.5L401.85 264.0L401.96 296.0L402.02 286.5L402.19 268.1L402.30 310.3L402.36 269.2L402.53 272.5L402.58 287.8L402.81 276.7L402.92 270.9L403.14 271.3L403.19 284.3L403.30 268.3L403.41 281.0L403.63 268.6L403.74 288.8L403.91 285.3L403.96 267.0L404.13 311.8L404.23 271.1L404.34 296.7L404.40 272.1L404.50 280.4L404.72 315.5L404.83 278.3L404.88 308.7L405.04 282.7L405.20 301.2L405.30 272.6L405.46 297.3L405.57 299.2L405.67 281.9L405.78 284.8L405.93 303.0L406.04 276.1L406.19 303.1L406.30 277.0L406.45 298.2L406.50 279.1L406.61 299.0L406.76 272.1L406.81 291.0L407.02 304.8L407.17 276.8L407.42 276.7L407.47 284.3L407.53 270.6L407.58 281.1L407.78 276.7L407.88 261.8L408.13 272.4L408.18 281.2L408.38 283.1L408.47 263.5L408.62 256.3L408.72 285.8L408.87 279.4L408.92 270.6L409.11 265.0L409.21 284.5L409.31 260.8L409.45 288.1L409.65 253.7L409.74 297.3L409.94 268.0L409.98 253.6L410.03 306.0L410.13 265.1L410.36 259.7L410.46 269.7L410.55 264.0L410.60 271.4L410.88 274.3L410.98 252.4L411.07 259.1L411.17 278.0L411.26 259.4L411.40 285.2L411.63 272.4L411.72 244.8L411.77 269.2L411.91 252.7L412.14 257.8L412.23 275.4L412.32 270.5L412.41 259.4L412.55 247.8L412.73 259.0L412.77 245.1L412.95 276.0L413.04 247.4L413.09 306.1L413.31 271.3L413.45 253.2L413.58 245.6L413.62 275.5L413.76 304.2L413.93 240.3L414.06 283.8L414.15 244.0L414.37 269.7L414.46 245.7L414.54 238.4L414.72 260.7L414.89 240.2L414.93 269.1L415.06 256.3L415.24 232.4L415.32 236.3L415.41 250.6L415.58 239.1L415.70 257.6L415.79 234.9L415.92 248.8L416.04 263.3L416.08 239.3L416.25 261.3L416.42 239.4L416.63 269.4L416.67 231.4L416.88 247.6L416.92 233.0L417.08 256.4L417.17 235.9L417.37 267.7L417.41 230.4L417.58 225.6L417.66 252.7L417.82 279.0L417.98 233.3L418.06 236.5L418.18 244.6L418.30 227.4L418.46 258.5L418.54 235.7L418.58 260.9L418.86 231.2L418.94 256.2L419.02 252.9L419.10 222.2L419.26 228.8L419.37 240.4L419.53 244.5L419.69 229.9L419.80 241.6L419.96 227.0L420.04 225.3L420.08 254.4L420.35 247.3L420.42 228.2L420.58 222.5L420.65 252.9L420.77 259.0L420.88 220.5L421.11 227.0L421.22 245.9L421.33 221.5L421.45 250.2L421.56 220.4L421.60 252.6L421.78 241.7L421.93 224.6L422.16 221.8L422.23 259.6L422.30 242.6L422.49 217.4L422.71 221.9L422.74 249.1L422.85 218.6L422.89 254.8L423.07 214.0L423.14 249.6L423.29 216.1L423.32 239.2L423.50 214.2L423.68 248.3L423.76 215.9L423.79 226.2L424.04 238.0L424.18 217.0L424.25 216.5L424.29 238.7L424.61 208.5L424.68 226.7L424.92 245.5L424.96 215.0L425.16 215.3L425.23 239.0L425.30 241.8L425.44 212.7L425.51 211.1L425.61 236.8L425.82 213.4L425.99 234.5L426.02 232.5L426.23 214.5L426.43 256.0L426.50 206.8L426.67 210.0L426.73 237.7L426.83 210.1L426.97 265.4L427.10 209.7L427.17 224.2L427.30 224.2L427.37 208.6L427.66 210.8L427.73 226.6L427.80 203.0L427.99 243.0L428.15 230.2L428.22 210.7L428.38 251.1L428.41 205.5L428.51 237.4L428.64 208.0L428.77 218.2L428.93 208.2L429.03 229.6L429.06 203.9L429.31 204.1L429.41 227.3L429.69 241.4L429.72 205.5L429.82 225.3L429.88 197.8L430.19 221.4L430.23 202.3L430.32 261.0L430.38 201.5L430.69 219.9L430.72 196.5L430.78 216.0L431.00 197.9L431.09 220.2L431.24 198.3L431.30 196.9L431.49 218.6L431.55 199.3L431.67 216.4L431.79 196.8L431.85 234.4L432.06 194.5L432.15 246.6L432.42 228.0L432.45 201.3L432.71 214.7L432.74 188.9L432.86 221.5L432.98 191.8L433.13 223.0L433.21 194.2L433.45 227.7L433.48 194.1L433.65 220.5L433.71 191.8L433.88 200.5L434.00 187.8L434.05 221.3L434.17 190.6L434.31 222.5L434.48 189.0L434.51 217.1L434.57 193.5L434.79 236.8L434.85 190.8L435.13 218.2L435.16 188.9L435.38 190.0L435.44 213.2L435.52 227.6L435.72 186.9L435.88 186.9L435.91 225.4L436.02 212.2L436.05 180.9L436.30 223.1L436.35 186.2L436.52 186.3L436.63 219.7L436.87 183.8L436.92 200.2L437.00 183.1L437.03 205.9L437.35 185.3L437.46 206.2L437.54 184.7L437.67 214.9L437.86 179.1L437.91 207.6L438.10 215.2L438.23 189.0L438.36 180.1L438.39 205.5L438.57 201.2L438.73 185.7L438.75 181.5L438.80 213.9L439.09 184.2L439.19 214.8L439.30 207.4L439.37 185.6L439.50 179.9L439.68 209.0L439.88 183.1L439.96 201.1L440.06 217.2L440.24 177.8L440.44 222.4L440.49 181.4L440.56 201.4L440.74 177.9L440.91 176.8L440.99 219.3L441.13 208.4L441.16 173.8L441.38 210.6L441.43 177.1L441.55 198.4L441.70 177.3L441.80 173.9L441.85 213.4L442.06 216.4L442.16 175.8L442.33 209.8L442.50 174.6L442.67 200.1L442.74 174.1L442.93 176.7L442.98 205.0L443.02 175.8L443.07 216.8L443.43 168.6L443.45 224.1L443.52 196.6L443.71 172.9L443.78 199.0L443.96 177.5L444.22 172.5L444.24 230.6L444.34 176.4L444.45 199.9L444.63 176.5L444.66 219.2L444.80 166.3L444.91 199.1L445.18 194.3L445.20 167.5L445.27 205.9L445.45 167.6L445.59 168.7L445.68 194.1L445.90 169.9L445.99 191.5L446.01 164.3L446.17 191.5L446.35 219.2L446.46 168.3L446.57 170.9L446.66 199.3L446.90 168.0L446.92 198.8L447.16 195.2L447.18 164.4L447.29 195.4L447.42 169.6L447.66 161.9L447.72 186.4L447.89 186.4L448.00 163.7L448.11 187.4L448.15 166.1L448.25 162.4L448.42 198.6L448.61 161.0L448.74 193.1L448.87 168.0L448.89 195.6L449.03 162.3L449.24 194.6L449.39 186.9L449.43 165.8L449.57 211.1L449.72 157.1L449.80 165.1L449.97 198.3L450.09 199.5L450.23 156.7L450.33 159.5L450.39 194.3L450.64 160.0L450.68 193.0L450.88 180.0L451.00 158.8L451.18 193.2L451.22 158.5L451.34 162.0L451.42 212.6L451.68 202.9L451.70 156.3L451.85 184.8L451.87 159.0L452.07 157.6L452.21 204.6L452.38 184.4L452.42 158.9L452.54 161.9L452.56 185.1L452.85 200.6L452.87 152.2L453.08 160.4L453.19 190.5L453.31 195.6L453.42 156.1L453.65 148.0L453.69 181.3L453.93 185.4L453.99 155.8L454.06 153.9L454.23 186.6L454.31 159.1L454.35 174.3L454.64 189.7L454.68 158.4L454.83 190.3L454.85 158.4L455.05 186.1L455.10 157.3L455.29 154.3L455.43 186.1L455.51 195.8L455.62 156.2L455.82 156.3L455.91 179.3L456.07 152.7L456.09 183.2L456.39 148.9L456.46 186.0L456.55 198.7L456.68 152.3L456.78 189.6L456.89 155.0L457.01 175.7L457.15 156.0L457.43 176.0L457.49 157.2L457.63 153.5L457.71 193.8L457.80 191.1L457.87 151.8L458.01 150.2L458.15 225.6L458.44 154.2L458.49 188.5L458.52 153.5L458.74 182.2L458.85 148.1L458.95 193.6L459.13 192.3L459.23 153.9L459.29 148.2L459.40 191.4L459.57 151.0L459.62 202.5L459.77 153.4L459.90 179.8L460.15 186.4L460.20 147.3L460.28 154.5L460.46 177.4L460.53 189.1L460.61 158.9L460.77 154.0L460.97 194.5L461.05 155.7L461.13 184.1L461.26 183.4L461.49 149.6L461.52 149.8L461.69 200.8L461.82 155.0L461.96 186.8L462.11 190.5L462.12 153.4L462.28 156.4L462.47 200.1L462.53 180.3L462.61 146.8L462.78 170.0L462.91 152.9L463.09 155.9L463.17 178.4L463.30 175.9L463.36 152.1L463.60 151.9L463.68 183.7L463.80 189.3L463.82 155.0L464.03 149.2L464.06 191.6L464.30 190.1L464.44 154.9L464.69 177.8L464.71 155.1L464.78 185.0L464.84 155.3L465.13 194.4L465.25 156.2L465.33 184.7L465.47 152.5L465.51 180.8L465.57 155.1L465.85 155.7L465.94 187.4L466.02 181.2L466.21 150.7L466.40 150.8L466.44 188.9L466.55 182.5L466.75 153.0L466.82 181.9L466.96 156.6L467.00 147.2L467.09 190.6L467.35 152.8L467.36 181.5L467.60 155.3L467.64 199.9L467.85 217.3L467.99 151.3L468.01 148.5L468.15 190.9L468.27 191.0L468.33 154.8L468.51 149.7L468.66 191.6L468.82 154.8L468.88 175.7L469.03 183.9L469.10 147.6L469.34 172.5L469.36 155.7L469.53 151.8L469.72 174.6L469.82 199.0L469.96 157.9L470.06 183.0L470.22 153.7L470.26 188.0L470.46 152.4L470.60 234.0L470.65 142.9L470.77 176.6L470.84 154.1L471.02 153.8L471.14 180.0L471.28 150.0L471.40 180.4L471.50 195.3L471.65 152.5L471.93 148.0L471.94 178.4L472.07 179.6L472.21 156.2L472.34 156.1L472.38 187.5L472.62 184.7L472.68 154.1L472.81 154.4L472.86 216.3L473.02 208.6L473.21 152.8L473.35 196.5L473.50 158.1L473.55 148.6L473.65 201.5L473.97 157.9L473.99 204.9L474.03 184.1L474.05 154.4L474.29 155.4L474.48 181.0L474.54 154.4L474.70 186.0L474.86 157.1L474.95 186.6L475.04 190.4L475.17 157.5L475.27 176.2L475.33 153.9L475.61 152.4L475.70 180.7L475.84 178.8L475.94 154.0L476.04 180.6L476.19 153.8L476.41 182.2L476.44 149.8L476.60 152.5L476.69 200.0L476.79 155.6L476.83 181.6L477.17 154.0L477.19 189.6L477.28 152.9L477.48 192.1L477.57 184.8L477.58 148.1L477.89 197.4L477.93 151.4L478.07 197.5L478.15 152.7L478.31 156.6L478.47 195.2L478.52 195.2L478.57 150.9L478.77 204.4L478.97 146.7L479.06 146.4L479.16 187.4L479.35 156.4L479.47 193.9L479.66 196.5L479.73 151.9L479.81 149.9L479.92 189.9L480.00 185.6L480.01 156.4L480.49 183.7L480.50 156.9L480.59 200.2L480.66 156.0L480.78 180.3L480.94 152.9L481.14 155.2L481.20 179.1L481.31 186.1L481.39 155.9L481.62 152.8L481.74 191.7L481.75 195.3L481.83 157.0L482.14 227.0L482.16 152.2L482.28 189.8L482.50 155.5L482.55 155.1L482.66 184.1L482.82 158.3L482.95 198.5L483.01 153.5L483.08 181.9L483.28 187.6L483.41 155.8L483.50 223.1L483.57 153.1L483.86 181.0L483.92 154.5L484.00 182.2L484.03 151.1L484.27 192.9L484.50 149.6L484.60 191.7L484.62 156.2L484.89 154.2L484.94 200.6L485.09 183.2L485.20 151.9L485.41 154.6L485.44 186.6L485.52 155.4L485.53 198.1L485.80 203.8L485.98 158.5L486.06 185.3L486.18 150.8L486.28 155.6L486.32 190.6L486.60 191.6L486.62 154.7L486.97 198.8L487.00 152.8L487.19 152.9L487.22 199.9L487.31 191.6L487.43 154.8L487.57 194.7L487.67 157.0L487.87 186.5L487.91 150.2L488.22 188.0L488.24 161.4L488.39 150.6L488.49 195.2L488.55 204.6L488.71 158.4L488.93 160.5L488.97 210.9L489.03 155.1L489.06 196.4L489.36 220.7L489.48 153.5L489.51 213.1L489.75 157.4L489.79 154.7L489.93 184.8L490.03 161.3L490.10 195.1L490.36 159.3L490.37 207.4L490.54 153.6L490.64 208.5L490.78 210.4L490.88 158.5L491.18 195.4L491.24 158.7L491.29 199.8L491.47 160.1L491.66 156.1L491.67 197.8L491.91 209.7L491.99 160.5L492.06 201.4L492.07 158.4L492.40 158.6L492.41 216.5L492.67 189.6L492.68 159.2L492.79 186.9L492.84 156.3L493.09 190.3L493.21 155.8L493.28 154.5L493.29 194.7L493.52 156.7L493.56 181.2L493.75 156.8L493.87 198.4L494.00 156.2L494.11 185.1L494.27 189.4L494.33 160.2L494.50 156.3L494.51 203.2L494.81 152.1L494.93 188.0L495.05 158.7L495.07 198.7L495.35 157.6L495.41 192.1L495.59 155.9L495.68 192.5L495.78 205.7L495.89 157.0L496.00 230.0L496.15 157.7L496.25 192.7L496.50 158.9L496.58 203.3L496.60 160.0L496.76 200.5L496.92 151.7L497.10 153.9L497.13 191.2L497.45 181.6L497.46 156.3L497.62 156.2L497.66 208.8L497.93 154.6L497.98 203.9L498.06 160.4L498.15 188.8L498.44 193.6L498.46 150.4L498.59 198.2L498.62 148.7L498.78 158.3L498.92 201.2L499.06 158.5L499.07 200.7L499.27 151.3L499.48 188.9L499.68 194.5L499.69 151.3L499.91 222.4L499.99 153.5L500.10 158.2L500.21 186.6L500.32 187.4L500.42 153.1L500.52 208.0L500.66 154.9L500.92 191.7L500.93 148.3L501.14 152.1L501.21 196.8L501.28 203.5L501.29 158.3L501.60 239.0L501.62 154.0L501.77 209.4L501.94 159.5L502.04 153.9L502.09 195.3L502.33 151.1L502.34 206.7L502.59 156.4L502.70 196.5L502.83 153.9L502.97 190.3L503.03 198.3L503.23 156.6L503.27 207.9L503.47 151.9L503.57 159.6L503.66 197.8L503.78 204.0L503.86 157.9L504.11 191.0L504.23 155.4L504.32 208.3L504.42 155.6L504.58 190.6L504.74 156.4L504.77 154.7L504.99 182.8L505.00 201.5L505.01 156.6L505.32 204.3L505.41 151.9L505.53 152.5L505.65 194.8L505.84 194.6L505.85 150.5L506.08 210.9L506.21 153.1L506.26 154.5L506.47 199.3L506.51 224.4L506.71 152.6L506.77 189.2L506.92 152.8L507.02 196.6L507.20 155.3L507.35 151.7L507.37 188.6L507.54 155.3L507.67 201.7L507.98 197.4L507.99 151.6L508.14 182.5L508.20 150.0L508.27 193.5L508.44 147.0L508.57 152.6L508.65 206.9L508.88 149.0L508.96 189.8L509.01 189.7L509.16 153.7L509.44 180.8L509.45 153.6L509.60 154.3L509.62 209.9L509.77 193.6L509.99 148.1L510.15 153.7L510.17 207.8L510.39 179.7L510.43 154.2L510.56 151.4L510.56 186.2L510.87 151.6L510.99 198.5L511.04 150.8L511.06 198.7L511.26 182.7L511.28 151.0L511.66 152.3L511.69 193.4L511.85 155.2L511.97 192.7L512.05 148.7L512.24 198.0L512.30 154.1L512.32 201.7L512.58 152.3L512.65 187.1L512.81 198.8L512.97 153.6L513.04 215.5L513.12 157.0L513.35 205.6L513.46 151.0L513.60 149.9L513.61 183.1L513.95 150.1L513.97 204.8L514.04 191.6L514.05 151.6L514.26 156.5L514.46 207.4L514.55 209.2L514.59 154.3L514.82 155.9L514.83 213.6L515.01 150.3L515.18 190.6L515.40 150.9L515.41 201.2L515.53 153.8L515.63 192.2L515.86 188.9L515.93 152.0L516.10 204.8L516.13 151.5L516.30 154.7L516.34 205.5L516.63 157.1L516.67 215.0L516.90 201.9L516.99 149.9L517.00 150.0L517.22 200.8L517.27 151.6L517.41 204.2L517.55 155.8L517.64 197.4L517.86 213.1L517.98 154.7L518.17 192.0L518.19 149.2L518.34 201.0L518.49 156.0L518.52 204.3L518.75 152.7L518.85 191.9L518.86 151.5L519.02 191.9L519.15 151.7L519.29 152.3L519.49 193.2L519.53 155.1L519.62 199.8L519.83 191.5L519.94 151.4L520.12 193.0L520.24 148.2L520.28 151.9L520.49 181.1L520.59 151.1L520.66 194.9L520.84 154.3L520.89 206.0L521.23 192.4L521.24 153.0L521.34 153.7L521.49 197.5L521.63 197.1L521.68 150.4L521.89 205.5L521.97 144.7L522.08 184.2L522.20 149.2L522.35 204.9L522.38 151.5L522.53 219.9L522.56 151.7L522.86 149.9L522.98 186.1L523.17 185.5L523.21 153.6L523.29 149.2L523.47 197.8L523.52 152.1L523.73 225.3L523.80 152.6L523.90 210.0L524.12 185.7L524.20 153.9L524.38 209.1L524.46 152.0L524.58 152.8L524.74 194.8L524.81 146.9L524.87 200.7L525.17 189.1L525.22 152.8L525.40 145.1L525.45 199.7L525.62 151.2L525.67 207.7L525.77 218.2L525.89 152.6L526.04 212.7L526.10 151.2L526.36 148.7L526.44 218.4L526.50 145.0L526.56 210.1L526.76 151.3L526.87 195.0L527.19 192.8L527.20 152.9L527.40 152.8L527.43 189.8L527.58 150.2L527.60 223.0L527.78 191.7L527.79 149.8L528.02 197.0L528.09 145.7L528.38 207.2L528.40 149.5L528.53 151.9L528.70 200.8L528.91 149.4L528.99 193.6L529.02 148.6L529.12 188.3L529.26 202.8L529.33 149.7L529.72 208.4L529.72 145.2L529.75 147.2L529.97 193.0L530.09 189.2L530.22 147.1L530.26 151.2L530.36 230.4L530.64 192.3L530.66 150.1L530.82 191.4L530.84 150.6L531.12 225.5L531.15 151.0L531.36 137.7L531.43 202.2L531.53 147.3L531.67 188.9L531.80 149.0L531.92 198.6L532.03 148.6L532.23 200.8L532.37 147.3L532.48 199.2L532.58 146.7L532.67 214.8L532.75 147.5L532.95 191.3L533.18 145.3L533.22 191.1L533.41 186.0L533.49 147.5L533.67 186.6L533.73 145.7L533.83 147.8L533.93 190.7L534.12 148.7L534.17 195.7L534.29 145.5L534.47 191.3L534.60 148.4L534.71 204.1L534.83 188.5L534.96 149.8L535.01 148.2L535.13 191.9L535.31 146.1L535.40 239.0L535.62 148.9L535.65 207.9L535.76 208.7L535.96 146.8L536.06 190.1L536.17 148.1L536.37 147.1L536.47 179.7L536.59 150.9L536.60 205.4L536.83 148.5L536.96 204.3L537.15 150.6L537.15 194.0L537.27 149.4L537.27 212.2L537.59 150.6L537.66 209.4L537.95 195.0L537.97 147.3L538.06 205.6L538.23 146.2L538.40 148.6L538.47 185.4L538.69 147.7L538.71 188.3L538.84 145.8L539.00 230.0L539.00 200.4L539.10 147.8L539.29 147.2L539.41 201.1L539.54 146.3L539.59 198.8L539.84 197.7L539.89 150.7L540.06 192.5L540.11 145.6L540.32 211.6L540.42 146.4L540.65 145.9L540.69 192.0L540.90 186.9L540.94 146.0L541.14 219.0L541.21 145.3L541.38 196.5L541.46 148.2L541.60 201.2L541.62 150.7L541.78 207.4L541.90 146.9L542.16 180.8L542.23 146.2L542.37 144.3L542.43 217.3" stroke="#ff0000"/></g>
<path d="M141.43 374.7v-4.6M141.43 34.8v4.6M249.85 374.7v-4.6M249.85 34.8v4.6M358.26 374.7v-4.6M358.26 34.8v4.6M466.67 374.7v-4.6M466.67 34.8v4.6M98.29 374.7v-2.3M98.29 34.8v2.3M108.8 374.7v-2.3M108.8 34.8v2.3M117.38 374.7v-2.3M117.38 34.8v2.3M124.64 374.7v-2.3M124.64 34.8v2.3M130.93 374.7v-2.3M130.93 34.8v2.3M136.47 374.7v-2.3M136.47 34.8v2.3M174.07 374.7v-2.3M174.07 34.8v2.3M193.16 374.7v-2.3M193.16 34.8v2.3M206.7 374.7v-2.3M206.7 34.8v2.3M217.21 374.7v-2.3M217.21 34.8v2.3M225.79 374.7v-2.3M225.79 34.8v2.3M233.05 374.7v-2.3M233.05 34.8v2.3M239.34 374.7v-2.3M239.34 34.8v2.3M244.88 374.7v-2.3M244.88 34.8v2.3M282.48 374.7v-2.3M282.48 34.8v2.3M301.57 374.7v-2.3M301.57 34.8v2.3M315.12 374.7v-2.3M315.12 34.8v2.3M325.62 374.7v-2.3M325.62 34.8v2.3M334.21 374.7v-2.3M334.21 34.8v2.3M341.47 374.7v-2.3M341.47 34.8v2.3M347.75 374.7v-2.3M347.75 34.8v2.3M353.3 374.7v-2.3M353.3 34.8v2.3M390.89 374.7v-2.3M390.89 34.8v2.3M409.99 374.7v-2.3M409.99 34.8v2.3M423.53 374.7v-2.3M423.53 34.8v2.3M434.04 374.7v-2.3M434.04 34.8v2.3M442.62 374.7v-2.3M442.62 34.8v2.3M449.88 374.7v-2.3M449.88 34.8v2.3M456.17 374.7v-2.3M456.17 34.8v2.3M461.71 374.7v-2.3M461.71 34.8v2.3M499.31 374.7v-2.3M499.31 34.8v2.3M518.4 374.7v-2.3M518.4 34.8v2.3M531.94 374.7v-2.3M531.94 34.8v2.3M85.55 129.42h4.6M542.45 129.42h-4.6M85.55 223.83h4.6M542.45 223.83h-4.6M85.55 318.25h4.6M542.45 318.25h-4.6" stroke="#3a3a3a" stroke-width="1.1" fill="none"/>
<rect x="85.55" y="34.8" width="456.90000000000003" height="339.9" fill="none" stroke="#6a6a6a" stroke-width="1.3"/>
<rect x="85.55" y="35.2" width="111.9" height="40.4" fill="#fff" stroke="#3c3c3c" stroke-width="1"/>
<rect x="348.0" y="35.2" width="194.45" height="40.4" fill="#fff" stroke="#3c3c3c" stroke-width="1"/>
<path d="M352.3 46H390.1" stroke="#0000ff" stroke-width="1.7"/><path d="M352.3 64.6H390.1" stroke="#ff0000" stroke-width="1.7"/>
<rect x="110.4" y="95.6" width="147.9" height="100.3" fill="none" stroke="#000" stroke-width="1.8"/>
<path d="M118.6 188.8L124.8 141.4L137.6 113.2L150.0 148.0L155.2 188.8" fill="none" stroke="#0000ff" stroke-width="1.9" stroke-linejoin="round"/>
<path d="M118.6 188.8L121.6 170.0L137.6 142.3L153.2 176.0L155.2 188.8" fill="none" stroke="#ff0000" stroke-width="1.9" stroke-linejoin="round"/>
<path d="M137.6 113.1H170.9" stroke="#0000ff" stroke-width="1.9" stroke-dasharray="6 3.1"/>
<path d="M137.6 142.1H170.9" stroke="#ff0000" stroke-width="1.9" stroke-dasharray="6 3.1"/>
<circle cx="302.9" cy="60.9" r="19.95" fill="none" stroke="#000" stroke-width="1.6" stroke-dasharray="5.4 2.957" stroke-dashoffset="0.6"/>
<path d="M283.6 70.9L263 90.4" stroke="#000" stroke-width="1.7"/>
<path d="M257.8 95.3L260.4 87.6L265.7 93.1Z" fill="#000"/>
<text fill="#000"><tspan x="148.16" y="25.4" font-size="23.0" textLength="121.64" lengthAdjust="spacingAndGlyphs">Modulator</tspan> <tspan x="277.94" y="25.4" font-size="23.0" textLength="83.01" lengthAdjust="spacingAndGlyphs">Output</tspan> <tspan x="367.45" y="25.4" font-size="23.0" textLength="112.47" lengthAdjust="spacingAndGlyphs">Spectrum</tspan></text>
<text x="65.40" y="43.6" font-size="20.7" fill="#262626" textLength="12.78" lengthAdjust="spacingAndGlyphs">0</text>
<text fill="#262626"><tspan x="42.87" y="137.9" font-size="19.0" textLength="11.51" lengthAdjust="spacingAndGlyphs">−</tspan><tspan x="55.19" y="137.9" font-size="20.7" textLength="22.89" lengthAdjust="spacingAndGlyphs">50</tspan></text>
<text fill="#262626"><tspan x="29.73" y="232.3" font-size="19.0" textLength="12.01" lengthAdjust="spacingAndGlyphs">−</tspan><tspan x="41.43" y="232.3" font-size="20.7" textLength="36.81" lengthAdjust="spacingAndGlyphs">100</tspan></text>
<text fill="#262626"><tspan x="29.73" y="326.7" font-size="19.0" textLength="12.01" lengthAdjust="spacingAndGlyphs">−</tspan><tspan x="41.43" y="326.7" font-size="20.7" textLength="36.81" lengthAdjust="spacingAndGlyphs">150</tspan></text>
<text fill="#262626"><tspan x="164.04" y="439.4" font-size="20.9" textLength="121.56" lengthAdjust="spacingAndGlyphs">Normalized</tspan> <tspan x="292.87" y="439.4" font-size="20.9" textLength="112.31" lengthAdjust="spacingAndGlyphs">Frequency</tspan> <tspan x="409.77" y="439.4" font-size="20.9" textLength="53.92" lengthAdjust="spacingAndGlyphs">[F/Fs]</tspan></text>
<text fill="#0000ff"><tspan x="88.89" y="51.6" font-size="13.7" textLength="39.00" lengthAdjust="spacingAndGlyphs">SNDR</tspan> <tspan x="131.80" y="51.6" font-size="13.7" textLength="7.91" lengthAdjust="spacingAndGlyphs">=</tspan> <tspan x="143.62" y="51.6" font-size="13.7" textLength="27.97" lengthAdjust="spacingAndGlyphs">89.5</tspan> <tspan x="175.69" y="51.6" font-size="13.7" textLength="18.20" lengthAdjust="spacingAndGlyphs">dB</tspan></text>
<text fill="#ff0000"><tspan x="88.90" y="69.4" font-size="13.7" textLength="38.97" lengthAdjust="spacingAndGlyphs">SNDR</tspan> <tspan x="131.80" y="69.4" font-size="13.7" textLength="7.89" lengthAdjust="spacingAndGlyphs">=</tspan> <tspan x="143.63" y="69.4" font-size="13.7" textLength="27.96" lengthAdjust="spacingAndGlyphs">86.5</tspan> <tspan x="175.71" y="69.4" font-size="13.7" textLength="18.18" lengthAdjust="spacingAndGlyphs">dB</tspan></text>
<text x="394.48" y="51.6" font-size="13.7" fill="#000" textLength="64.01" lengthAdjust="spacingAndGlyphs">Unscaled</text>
<text x="395.28" y="68.9" font-size="13.7" fill="#000" textLength="144.82" lengthAdjust="spacingAndGlyphs">After scaling (part 3)</text>
<text fill="#0000ff"><tspan x="180.98" y="121.6" font-size="21.5" textLength="11.02" lengthAdjust="spacingAndGlyphs">−</tspan><tspan x="191.62" y="121.3" font-size="19.8" textLength="47.10" lengthAdjust="spacingAndGlyphs">7 dB</tspan></text>
<text fill="#ff0000"><tspan x="181.16" y="150.4" font-size="21.5" textLength="10.91" lengthAdjust="spacingAndGlyphs">−</tspan><tspan x="192.65" y="149.9" font-size="19.8" textLength="56.96" lengthAdjust="spacingAndGlyphs">10 dB</tspan></text>
<text fill="#262626"><tspan x="121.22" y="410.8" font-size="20.7" textLength="25.17" lengthAdjust="spacingAndGlyphs">10</tspan><tspan x="146.50" y="400.6" font-size="16.5" textLength="6.87" lengthAdjust="spacingAndGlyphs">−</tspan><tspan x="153.61" y="399.8" font-size="14.6" textLength="10.19" lengthAdjust="spacingAndGlyphs">4</tspan></text>
<text fill="#262626"><tspan x="229.73" y="410.8" font-size="20.7" textLength="25.79" lengthAdjust="spacingAndGlyphs">10</tspan><tspan x="254.83" y="400.6" font-size="16.5" textLength="6.49" lengthAdjust="spacingAndGlyphs">−</tspan><tspan x="261.41" y="399.8" font-size="14.6" textLength="10.09" lengthAdjust="spacingAndGlyphs">3</tspan></text>
<text fill="#262626"><tspan x="338.53" y="410.8" font-size="20.7" textLength="24.61" lengthAdjust="spacingAndGlyphs">10</tspan><tspan x="363.68" y="400.6" font-size="16.5" textLength="6.48" lengthAdjust="spacingAndGlyphs">−</tspan><tspan x="369.73" y="399.8" font-size="14.6" textLength="10.15" lengthAdjust="spacingAndGlyphs">2</tspan></text>
<text fill="#262626"><tspan x="446.65" y="410.8" font-size="20.7" textLength="25.39" lengthAdjust="spacingAndGlyphs">10</tspan><tspan x="471.61" y="400.6" font-size="16.5" textLength="6.86" lengthAdjust="spacingAndGlyphs">−</tspan><tspan x="477.99" y="399.8" font-size="14.6" textLength="9.19" lengthAdjust="spacingAndGlyphs">1</tspan></text>
<text transform="translate(24.0 0) rotate(-90)" y="0" font-size="21.0" fill="#262626"><tspan x="-248.45" textLength="43.98" lengthAdjust="spacingAndGlyphs">PSD</tspan> <tspan x="-201.85" textLength="40.69" lengthAdjust="spacingAndGlyphs">[dB]</tspan></text>
</svg>
</body></html>
